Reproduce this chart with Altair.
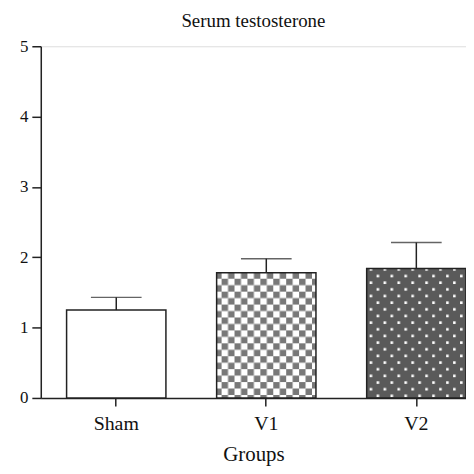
import altair as alt
import pandas as pd
import jinja2

# ---- data ----
groups = ["Sham", "V1", "V2"]
means = [1.25, 1.78, 1.84]
errors = [0.18, 0.20, 0.37]

df = pd.DataFrame({"group": groups, "mean": means, "err": errors})
df["upper"] = df["mean"] + df["err"]

FONT = "Liberation Serif"
fill_range = ["#ffffff", "url(#checker)", "url(#dots)"]

xenc = alt.X(
    "group:N",
    sort=groups,
    title="Groups",
    scale=alt.Scale(paddingInner=0.338, paddingOuter=0.086, align=1),
    axis=alt.Axis(
        labelAngle=0, labelFontSize=20, titleFontSize=21, labelFont=FONT, titleFont=FONT,
        titleFontWeight="normal", tickSize=8, tickWidth=1.5, domainWidth=1.5,
        domainColor="#222222", tickColor="#222222", labelColor="#111111", titleColor="#111111",
        labelPadding=8, titlePadding=10, grid=False,
    ),
)

yscale = alt.Scale(domain=[0, 5], nice=False)
yaxis = alt.Axis(
    values=[0, 1, 2, 3, 4, 5], format="d", labelFontSize=17, labelFont=FONT, tickSize=9,
    tickWidth=1.5, domainWidth=1.5, domainColor="#222222", tickColor="#222222",
    labelColor="#111111", labelPadding=4, grid=False, title=None,
)

bars = alt.Chart(df).mark_bar(stroke="#222222", strokeWidth=1.5).encode(
    x=xenc,
    y=alt.Y("mean:Q", scale=yscale, axis=yaxis),
    fill=alt.Fill("group:N", scale=alt.Scale(domain=groups, range=fill_range), legend=None),
)

stems = alt.Chart(df).mark_rule(color="#222222", strokeWidth=1.5).encode(
    x=alt.X("group:N", sort=groups),
    y=alt.Y("mean:Q", scale=yscale),
    y2="upper:Q",
)

caps = alt.Chart(df).mark_tick(color="#222222", thickness=1.5, size=51).encode(
    x=alt.X("group:N", sort=groups),
    y=alt.Y("upper:Q", scale=yscale),
)

chart = (
    alt.layer(bars, stems, caps)
    .properties(
        width=428,
        height=354,
        autosize=alt.AutoSizeParams(type="none"),
        padding={"left": 33, "top": 37, "right": 0, "bottom": 72},
        title=alt.TitleParams(
            "Serum testosterone", font=FONT, fontSize=19, fontWeight="normal",
            color="#111111", anchor="middle", offset=6,
        ),
    )
    .configure_view(stroke="transparent", strokeWidth=0)
    .configure_axis(grid=False)
    .configure(background="white")
)

TEMPLATE = jinja2.Template("""<!DOCTYPE html>
<html>
<head>
  <style>
    html, body { overflow: hidden; }
    #{{ output_div }}.vega-embed { width: 100%; display: flex; }
    #{{ output_div }}.vega-embed details,
    #{{ output_div }}.vega-embed details summary { position: relative; }
  </style>
  <script type="text/javascript" src="{{ base_url }}/vega@{{ vega_version }}"></script>
  <script type="text/javascript" src="{{ base_url }}/vega-lite@{{ vegalite_version }}"></script>
  <script type="text/javascript" src="{{ base_url }}/vega-embed@{{ vegaembed_version }}"></script>
</head>
<body>
  <svg width="0" height="0" style="position:absolute;left:0;top:0">
    <defs>
      <pattern id="checker" patternUnits="userSpaceOnUse" width="13" height="13">
        <rect width="13" height="13" fill="#ffffff"/>
        <rect width="6.5" height="6.5" fill="#787878"/>
        <rect x="6.5" y="6.5" width="6.5" height="6.5" fill="#787878"/>
      </pattern>
      <pattern id="dots" patternUnits="userSpaceOnUse" width="14" height="13.4">
        <rect width="14" height="13.4" fill="#5a5a5a"/>
        <rect x="2" y="2.2" width="2.6" height="2.6" fill="#ffffff"/>
        <rect x="9" y="8.9" width="2.6" height="2.6" fill="#ffffff"/>
      </pattern>
    </defs>
  </svg>
  <div id="{{ output_div }}"></div>
  <script type="text/javascript">
    var spec = {{ spec }};
    var embedOpt = {{ embed_options }};
    function showError(el, error){
        el.innerHTML = ('<div style="color:red;"><p>JavaScript Error: ' + error.message + '</p></div>');
        throw error;
    }
    const el = document.getElementById('{{ output_div }}');
    vegaEmbed("#{{ output_div }}", spec, embedOpt).catch(error => showError(el, error));
  </script>
</body>
</html>
""")

chart.save("out.html", embed_options={"renderer": "svg", "actions": False}, template=TEMPLATE)
